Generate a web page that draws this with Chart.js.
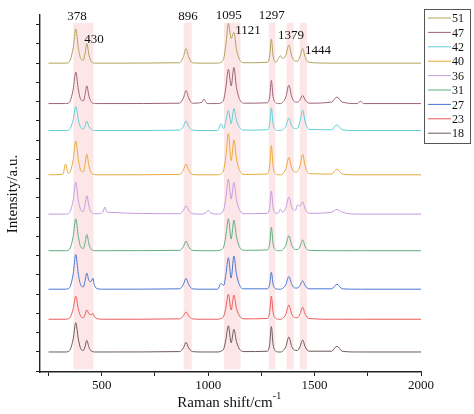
<!DOCTYPE html>
<html>
<head>
<meta charset="utf-8">
<script src="https://cdn.jsdelivr.net/npm/chart.js@4/dist/chart.umd.min.js"></script>
<style>
  html, body { margin: 0; padding: 0; background: #fff; }
  #wrap { width: 474px; height: 414px; }
</style>
</head>
<body>
<div id="wrap"><canvas id="chartRaman" width="474" height="414"></canvas></div>
<script>
// Raman shift grid (cm-1) shared by all spectra
const shifts = [250, 318, 330, 342, 352, 366, 378, 390, 402, 414, 421, 430, 440, 450, 458, 466, 482, 505, 515, 525,
  866, 884, 896, 908, 926,
  970, 980, 990, 1000, 1010,
  1045, 1060, 1073, 1083, 1095, 1108, 1121, 1133, 1148, 1168,
  1278, 1289, 1297, 1305, 1318,
  1330, 1340, 1350, 1365, 1379, 1393, 1410, 1420, 1431, 1444, 1456, 1474,
  1580, 1605, 1630, 1700, 1715, 1730, 2000];

// series names (legend order) and vertical offsets of each spectrum
const seriesNames = ["51", "47", "42", "40", "36", "31", "27", "23", "18"];
const offsets = [7.5, 6.45, 5.75, 4.6, 3.58, 2.63, 1.63, 0.85, 0];
const colors = ["#b0a35c", "#9c6476", "#5fd0d8", "#e8aa3c", "#c79bdc", "#5fae80", "#4a78d2", "#ea5a5a", "#6c5a5c"];

// intensity above baseline
const s51 = [0,0,0,.01,.08,.4,.89,.4,.11,.08,.23,.51,.21,.05,.01,0,0,0,0,0,
  .01,.17,.38,.17,.01, 0,0,0,0,0,
  0,.02,.12,.46,1.03,.64,.8,.36,.09,.01, .02,.19,.62,.19,.02,
  .12,.19,.12,.2,.47,.18,.05,.05,.16,.38,.15,.02, 0,0,0,0,0,0,0];
const s47 = [0,0,0,.01,.07,.37,.82,.37,.1,.07,.21,.46,.19,.05,.01,0,0,0,0,0,
  .01,.15,.34,.15,.01, .03,.12,.03,0,0,
  0,.02,.1,.4,.89,.46,.94,.42,.11,.01, .02,.18,.6,.18,.02,
  0,0,.03,.17,.48,.17,.04,.04,.09,.21,.09,.01, .04,.17,.04,0,.06,0,0];
const s42 = [0,0,0,.01,.05,.28,.62,.28,.07,.04,.11,.24,.1,.03,.01,0,0,0,0,0,
  .01,.11,.25,.11,.01, 0,0,0,0,0,
  0,.18,.05,.24,.52,.18,.57,.26,.07,.01, .02,.17,.59,.17,.02,
  0,0,.02,.11,.32,.12,.05,.06,.22,.53,.22,.03, .02,.15,.02,0,0,0,0];
const s40 = [0,.02,.28,.04,.08,.4,.88,.4,.11,.08,.25,.54,.23,.06,.02,.01,0,0,0,0,
  .01,.13,.28,.13,.01, 0,0,0,0,0,
  0,.02,.13,.48,1.07,.37,.91,.41,.11,.01, .02,.22,.76,.22,.02,
  0,0,.02,.16,.45,.17,.07,.09,.22,.53,.22,.03, .02,.15,.02,0,0,0,0];
const s36 = [0,0,0,.01,.07,.37,.83,.37,.1,.07,.22,.48,.2,.05,.02,.01,.01,.05,.18,.05,
  .01,.1,.22,.1,.01, 0,.01,.04,.1,.04,
  0,.02,.11,.41,.91,.39,.82,.37,.1,.01, .02,.18,.6,.18,.02,
  .03,.13,.05,.16,.44,.17,.1,.24,.2,.32,.13,.02, .05,.12,.05,0,0,0,0];
const s31 = [0,0,0,.01,.07,.37,.83,.37,.09,.06,.19,.42,.17,.04,.01,0,0,0,0,0,
  .01,.11,.25,.11,.01, 0,0,0,0,0,
  0,.02,.1,.37,.83,.3,.79,.36,.09,.01, .02,.18,.61,.18,.02,
  0,0,.02,.14,.39,.14,.03,.03,.1,.28,.1,.01, 0,0,0,0,0,0,0];
const s27 = [0,0,0,.01,.07,.4,.9,.4,.1,.06,.2,.42,.22,.2,.29,.1,.01,0,0,0,
  .01,.13,.28,.13,.01, 0,0,0,0,0,
  0,.15,.1,.37,.82,.29,.86,.39,.1,.01, .01,.13,.44,.13,.01,
  0,0,.02,.12,.33,.12,.03,.03,.09,.22,.09,.01, .01,.13,.01,0,0,0,0];
const s23 = [0,0,0,.01,.05,.27,.6,.27,.07,.04,.11,.24,.14,.12,.15,.06,.01,0,0,0,
  .01,.09,.19,.09,.01, 0,0,0,0,0,
  0,.02,.08,.29,.65,.24,.63,.28,.08,.01, .02,.18,.6,.18,.02,
  0,0,.02,.13,.37,.13,.04,.04,.13,.31,.13,.02, 0,0,0,0,0,0,0];
const s18 = [0,0,0,.01,.06,.34,.76,.34,.08,.04,.13,.3,.12,.03,.01,0,0,0,0,0,
  .01,.11,.25,.11,.01, 0,0,0,0,0,
  0,.02,.08,.31,.68,.24,.59,.27,.07,.01, .02,.2,.66,.2,.02,
  0,0,.02,.14,.39,.14,.04,.04,.13,.31,.13,.02, .02,.15,.02,0,0,0,0];
const seriesValues = [s51, s47, s42, s40, s36, s31, s27, s23, s18];

// highlighted bands and peak labels
const bandStart = [367, 885, 1074, 1285, 1368, 1430];
const bandEnd = [461, 923, 1152, 1316, 1402, 1464];
const peakLabels = ["378", "430", "896", "1095", "1121", "1297", "1379", "1444"];
const peakLabelX = [384, 464, 905, 1097, 1187, 1299, 1389, 1516];
const peakLabelY = [8.7, 8.1, 8.7, 8.73, 8.34, 8.73, 8.21, 7.82];

const xTicks = [250, 500, 750, 1000, 1250, 1500, 1750, 2000];
const SERIF = "'Liberation Serif', 'DejaVu Serif', serif";

const datasets = seriesNames.map((name, i) => ({
  label: name,
  data: shifts.map((x, k) => ({ x: x, y: seriesValues[i][k] + offsets[i] })),
  borderColor: colors[i],
  borderWidth: 1,
  pointRadius: 0,
  fill: false,
  cubicInterpolationMode: "monotone"
}));

// bands behind the lines, labels / legend / titles on top
const decorPlugin = {
  id: "decor",
  beforeDatasetsDraw(chart) {
    const { ctx, scales: { x, y } } = chart;
    ctx.save();
    ctx.fillStyle = "rgba(250, 200, 205, 0.45)";
    bandStart.forEach((s, i) => {
      const x0 = x.getPixelForValue(s), x1 = x.getPixelForValue(bandEnd[i]);
      const y0 = y.getPixelForValue(8.55), y1 = y.getPixelForValue(-0.45);
      ctx.fillRect(x0, y0, x1 - x0, y1 - y0);
    });
    ctx.restore();
  },
  afterDraw(chart) {
    const { ctx, scales: { x, y } } = chart;
    ctx.save();
    ctx.fillStyle = "#111";
    ctx.font = "13px " + SERIF;
    ctx.textAlign = "center";
    ctx.textBaseline = "middle";
    peakLabels.forEach((t, i) => {
      ctx.fillText(t, x.getPixelForValue(peakLabelX[i]), y.getPixelForValue(peakLabelY[i]));
    });

    // legend
    const lx = 424, ly = 9, lw = 46, lh = 134;
    ctx.strokeStyle = "#555";
    ctx.lineWidth = 1;
    ctx.strokeRect(lx + 0.5, ly + 0.5, lw, lh);
    ctx.textAlign = "left";
    ctx.font = "12px " + SERIF;
    seriesNames.forEach((n, i) => {
      const yy = ly + 9 + i * 14.4;
      ctx.strokeStyle = colors[i];
      ctx.beginPath();
      ctx.moveTo(lx + 4, yy);
      ctx.lineTo(lx + 27, yy);
      ctx.stroke();
      ctx.fillStyle = "#111";
      ctx.fillText(n, lx + 28, yy + 1);
    });

    // axis titles
    ctx.font = "15px " + SERIF;
    ctx.textAlign = "center";
    ctx.fillText("Raman shift/cm", 225, 403);
    ctx.font = "10px " + SERIF;
    ctx.fillText("-1", 277, 396);
    ctx.translate(13, 194);
    ctx.rotate(-Math.PI / 2);
    ctx.font = "15px " + SERIF;
    ctx.fillText("Intensity/a.u.", 0, 0);
    ctx.restore();
  }
};

new Chart(document.getElementById("chartRaman"), {
  type: "line",
  data: { datasets },
  options: {
    responsive: false,
    animation: false,
    layout: { padding: { left: 0, right: 53, top: 15, bottom: 0 } },
    plugins: { legend: { display: false }, tooltip: { enabled: false } },
    scales: {
      x: {
        type: "linear",
        min: 210,
        max: 2000,
        afterBuildTicks: s => { s.ticks = xTicks.map(v => ({ value: v })); },
        afterFit: s => { s.height = 42; },
        grid: { drawOnChartArea: false, drawTicks: true, tickLength: 4, color: "#222" },
        border: { color: "#222", width: 1.4 },
        ticks: {
          color: "#111",
          font: { family: SERIF, size: 13 },
          padding: 2,
          maxRotation: 0,
          autoSkip: false,
          callback: v => (v % 500 === 0 ? String(v) : "")
        }
      },
      y: {
        min: -0.52,
        max: 8.75,
        afterBuildTicks: s => {
          const t = [];
          for (let v = -0.5; v <= 8.6; v += 0.5) t.push({ value: v });
          s.ticks = t;
        },
        afterFit: s => { s.width = 40; },
        grid: { drawOnChartArea: false, drawTicks: true, tickLength: 4, color: "#222" },
        border: { color: "#222", width: 1.4 },
        ticks: { callback: () => "", padding: 0 }
      }
    }
  },
  plugins: [decorPlugin]
});
</script>
</body>
</html>
